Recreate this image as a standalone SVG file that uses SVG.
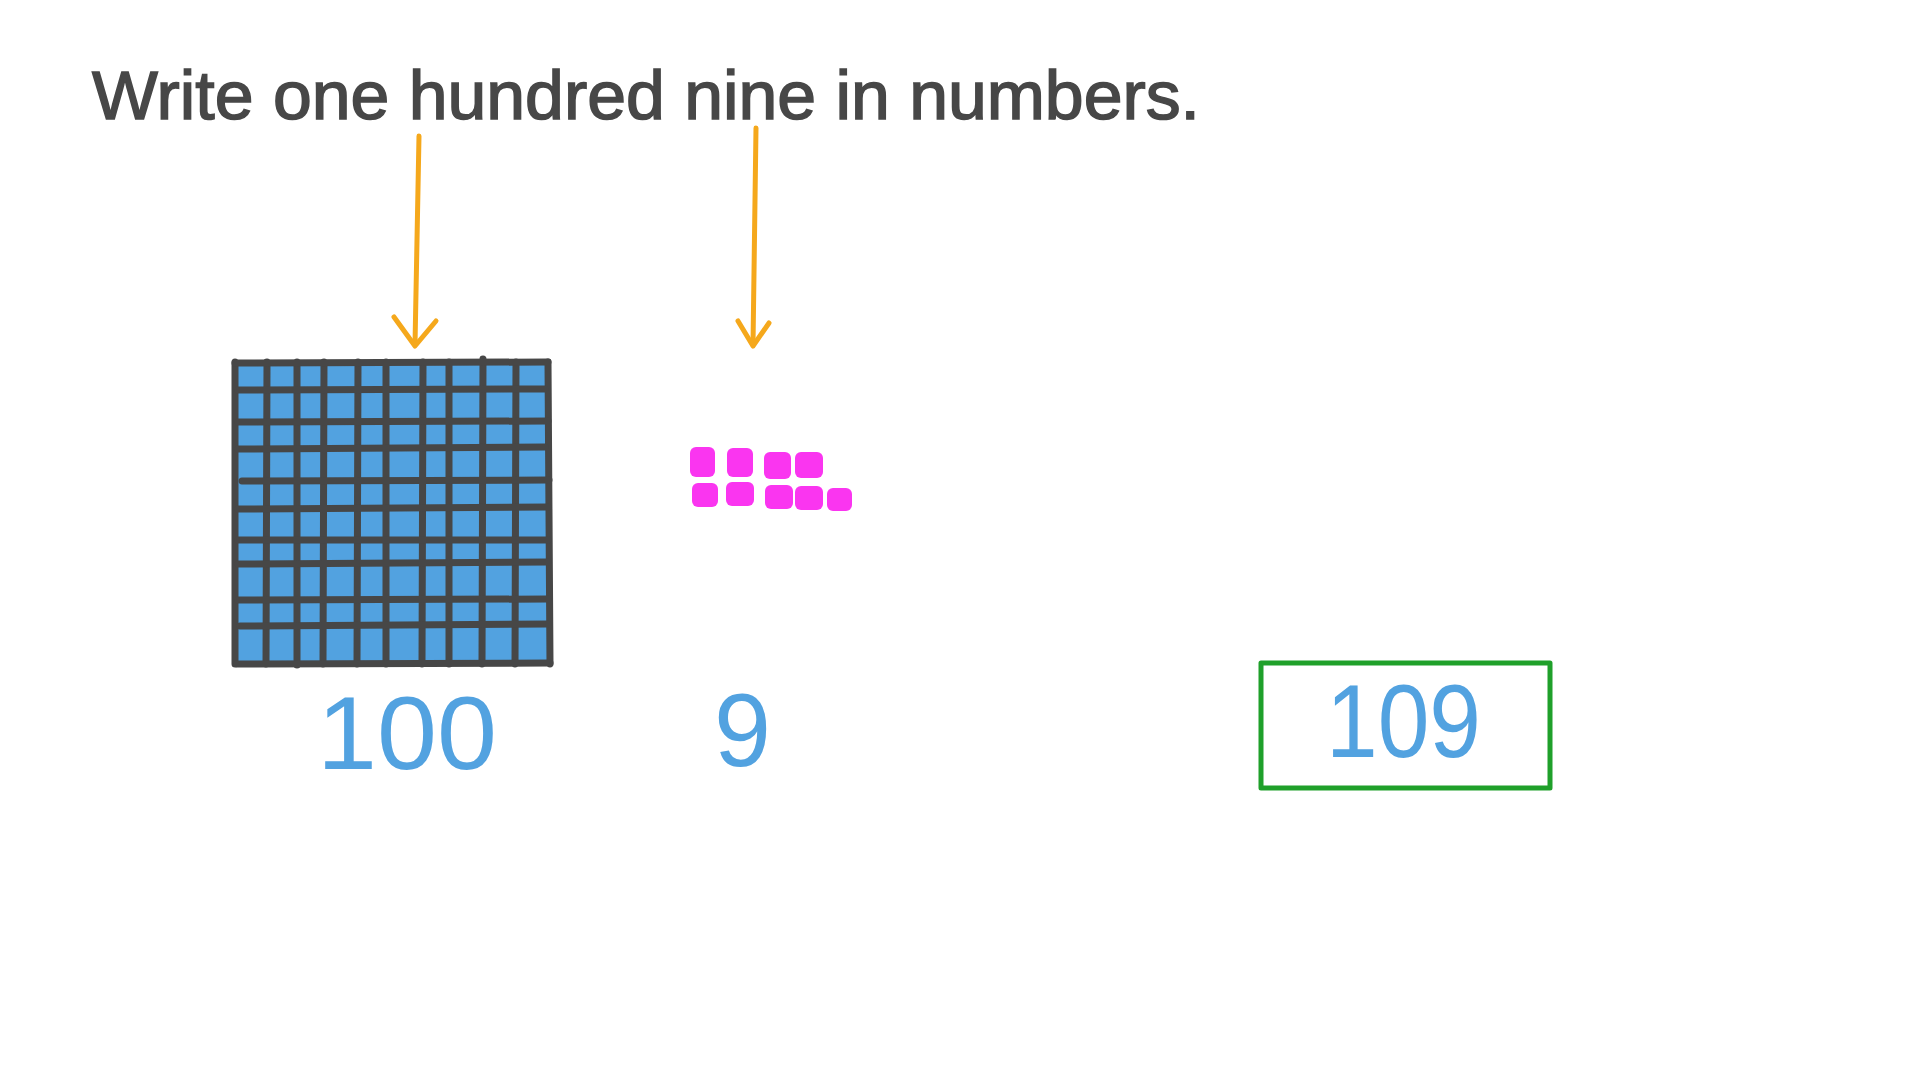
<svg xmlns="http://www.w3.org/2000/svg" width="1920" height="1080" viewBox="0 0 1920 1080">
<style>
.title{font-family:"Liberation Sans","DejaVu Sans",sans-serif;font-size:68px;fill:#474747;stroke:#474747;stroke-width:1.5}
.num{font-family:"Liberation Sans","DejaVu Sans",sans-serif;font-size:104px;fill:#52a2e0}
.arrow{stroke:#f5a81c;stroke-width:5;fill:none;stroke-linecap:round;stroke-linejoin:round}
.grid{stroke:#474747;stroke-width:7;stroke-linecap:round}
.sq{fill:#fa35f0}
</style>
<rect width="1920" height="1080" fill="#ffffff"/>
<g id="title">
<text class="title" x="92" y="119" textLength="1108" lengthAdjust="spacingAndGlyphs">Write one hundred nine in numbers.</text>
</g>
<g id="connectors">
<path class="arrow" d="M419 136 L415 345"/>
<path class="arrow" d="M394 317 L415 346 L436 321"/>
<path class="arrow" d="M756 128 L753 345"/>
<path class="arrow" d="M738 321 L753 346 L769 323"/>
</g>
<g id="hundred-block">
<rect x="235" y="362" width="314" height="302" fill="#52a2e0"/>
<g class="grid">
<line x1="235" y1="362" x2="235" y2="664"/>
<line x1="267" y1="362" x2="266" y2="664"/>
<line x1="297" y1="362" x2="297" y2="665"/>
<line x1="324" y1="362" x2="323" y2="664"/>
<line x1="358" y1="362" x2="357" y2="664"/>
<line x1="386" y1="362" x2="386" y2="664"/>
<line x1="423" y1="362" x2="422" y2="664"/>
<line x1="449" y1="362" x2="449" y2="664"/>
<line x1="483" y1="359" x2="482" y2="664"/>
<line x1="516" y1="362" x2="515" y2="664"/>
<line x1="548" y1="362" x2="550" y2="664"/>
<line x1="235" y1="363" x2="548" y2="362"/>
<line x1="238" y1="390" x2="545" y2="389"/>
<line x1="238" y1="422" x2="548" y2="421"/>
<line x1="238" y1="449" x2="545" y2="447"/>
<line x1="242" y1="481" x2="549" y2="480"/>
<line x1="238" y1="509" x2="548" y2="507"/>
<line x1="238" y1="540" x2="548" y2="540"/>
<line x1="238" y1="564" x2="548" y2="562"/>
<line x1="238" y1="600" x2="548" y2="599"/>
<line x1="240" y1="626" x2="548" y2="624"/>
<line x1="237" y1="664" x2="550" y2="663"/>
</g>
</g>
<g id="label-100">
<text class="num" x="317" y="769" textLength="180" lengthAdjust="spacingAndGlyphs">100</text>
</g>
<g id="ones">
<rect class="sq" x="690" y="447" width="25" height="30" rx="6"/>
<rect class="sq" x="727" y="448" width="26" height="29" rx="6"/>
<rect class="sq" x="764" y="452" width="27" height="27" rx="6"/>
<rect class="sq" x="795" y="452" width="28" height="26" rx="6"/>
<rect class="sq" x="692" y="483" width="26" height="24" rx="6"/>
<rect class="sq" x="726" y="482" width="28" height="24" rx="6"/>
<rect class="sq" x="765" y="485" width="28" height="24" rx="6"/>
<rect class="sq" x="795" y="486" width="28" height="24" rx="6"/>
<rect class="sq" x="827" y="488" width="25" height="23" rx="6"/>
</g>
<g id="label-9">
<text class="num" x="714" y="766" textLength="57" lengthAdjust="spacingAndGlyphs">9</text>
</g>
<g id="answer">
<rect x="1261" y="663" width="289" height="125" fill="none" stroke="#1fa02a" stroke-width="5" stroke-linejoin="round"/>
<text class="num" x="1326" y="757" textLength="155" lengthAdjust="spacingAndGlyphs">109</text>
</g>
</svg>
